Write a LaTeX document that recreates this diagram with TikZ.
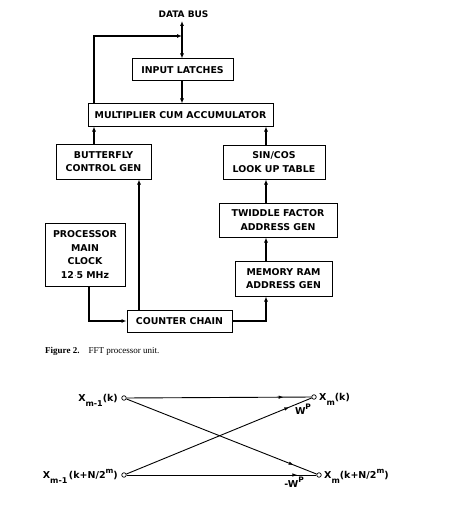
\documentclass[tikz,border=0pt]{standalone}
\usepackage{fontspec}
\setmainfont{DejaVu Sans}
\newfontfamily\capfont{Liberation Serif}
\usetikzlibrary{arrows.meta,decorations.markings}
\newcommand\lowsub[1]{\raisebox{-1.1ex}{\fontsize{8}{8}\selectfont #1}}
\newcommand\hisup[1]{\raisebox{0.9ex}{\fontsize{7.5}{7.5}\selectfont #1}}
\tikzset{
  blk/.style={draw, line width=1pt, inner sep=0pt, align=center,
    font=\fontsize{9.4}{13.5}\selectfont\bfseries},
  conn/.style={line width=1.4pt, -{Latex[length=5pt,width=4pt]}},
  bconn/.style={line width=0.9pt},
  midarrow/.style={decoration={markings, mark=at position #1 with {\arrow{Latex[length=5pt,width=3.5pt]}}}, postaction={decorate}},
  pin/.style={circle, draw, line width=0.7pt, fill=white, inner sep=0pt, minimum size=4.5pt},
  lbl/.style={font=\fontsize{9.5}{9.5}\selectfont\bfseries, inner sep=0pt}
}
\begin{document}
\begin{tikzpicture}[x=1pt, y=-1pt]
\useasboundingbox (0,0) rectangle (474,508);
% blocks
\node[blk, minimum width=101pt, minimum height=22pt] (latches) at (182.5,70) {INPUT LATCHES};
\node[blk, minimum width=185pt, minimum height=22pt] (mca) at (180.5,115) {MULTIPLIER CUM ACCUMULATOR};
\node[blk, minimum width=95pt, minimum height=35pt] (bfly) at (103.5,161.5) {BUTTERFLY\\CONTROL GEN};
\node[blk, minimum width=102pt, minimum height=34pt] (sincos) at (274,162) {SIN/COS\\LOOK UP TABLE};
\node[blk, minimum width=118pt, minimum height=34pt] (twiddle) at (278,220) {TWIDDLE FACTOR\\ADDRESS GEN};
\node[blk, minimum width=97pt, minimum height=35pt] (memory) at (283.5,278.5) {MEMORY RAM\\ADDRESS GEN};
\node[blk, minimum width=80pt, minimum height=63pt] (clock) at (85,254.5) {PROCESSOR\\MAIN\\CLOCK\\12$\cdot$5 MHz};
\node[blk, minimum width=105pt, minimum height=22pt] (counter) at (179.5,321) {COUNTER CHAIN};
\node[font=\fontsize{9}{9}\selectfont\bfseries, inner sep=0pt] (databus) at (183.5,14) {DATA BUS};
% helper coordinates
\coordinate (bustop) at (182,21);
\coordinate (fb) at (94,36);
\coordinate (rc) at (266,0);
\coordinate (ck) at (89,0);
\coordinate (cc) at (139,0);
% connectors
\draw[conn, {Latex[length=5pt,width=4pt]}-{Latex[length=5pt,width=4pt]}] (bustop) -- (latches.north -| bustop);
\draw[conn] (mca.north -| fb) -- (fb) -- (fb -| bustop);
\draw[conn] (latches.south -| bustop) -- (mca.north -| bustop);
\draw[conn] (bfly.north -| fb) -- (mca.south -| fb);
\draw[conn] (sincos.north -| rc) -- (mca.south -| rc);
\draw[conn] (twiddle.north -| rc) -- (sincos.south -| rc);
\draw[conn] (memory.north -| rc) -- (twiddle.south -| rc);
\draw[conn] (counter.east) -| (memory.south -| rc);
\draw[conn] (clock.south -| ck) |- (counter.west);
\draw[conn] (counter.north -| cc) -- (bfly.south -| cc);
% caption
\node[anchor=base west, inner sep=0pt, font=\capfont\fontsize{9}{9}\selectfont] (cap) at (45,353) {\textbf{Figure 2.}\quad FFT processor unit.};
% butterfly diagram
\node[pin] (a) at (124,398) {};
\node[pin] (b) at (124,475) {};
\node[pin] (c) at (314,397) {};
\node[pin] (d) at (319,475) {};
\draw[bconn, midarrow=0.85] (a) -- (c);
\draw[bconn, midarrow=0.88] (b) -- (c);
\draw[bconn, midarrow=0.88] (a) -- (d);
\draw[bconn, midarrow=0.9] (b) -- (d);
\node[lbl, anchor=base east] (la) at (118,401) {X\lowsub{m-1}(k)};
\node[lbl, anchor=base east] (lb) at (118,478) {X\lowsub{m-1}\,(k+N/2\hisup{m})};
\node[lbl, anchor=base west] (lc) at (319,400) {X\lowsub{m}(k)};
\node[lbl, anchor=base west] (ld) at (324,478) {X\lowsub{m}(k+N/2\hisup{m})};
\node[lbl, anchor=base] (w1) at (303,414) {W\hisup{P}};
\node[lbl, anchor=base] (w2) at (294,487) {-W\hisup{P}};
\end{tikzpicture}
\end{document}
